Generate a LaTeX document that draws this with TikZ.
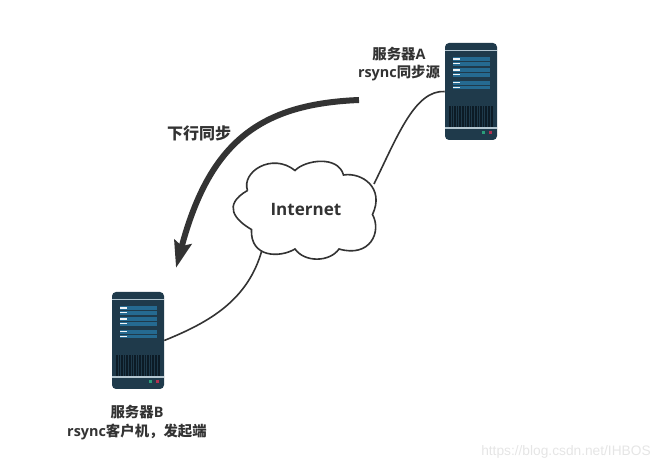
\documentclass[tikz,border=0pt]{standalone}
\usepackage{fontspec}
\setmainfont{Open Sans}
\newfontfamily\cjk{Noto Sans CJK SC}
\newfontfamily\wmfont{Liberation Sans}
\usetikzlibrary{arrows.meta}
\definecolor{srvbody}{HTML}{1F3A4B}
\definecolor{srvbar}{HTML}{256A91}
\definecolor{srvline}{HTML}{B4C6D0}
\definecolor{srvvent}{HTML}{0C1B26}
\definecolor{srvgreen}{HTML}{2A9D7A}
\definecolor{srvred}{HTML}{B03050}
\definecolor{inkdark}{HTML}{333333}
\tikzset{
	srvnode/.style={fill=srvbody, rounded corners=3, minimum width=39pt, minimum height=72.75pt, inner sep=0pt},
	label/.style={font=\bfseries\fontsize{10.8}{14}\selectfont, text=inkdark, align=center},
	wire/.style={line width=1.2pt, color=inkdark},
}
% rel. to top left corner of the box, in px
\def\srvdetails(#1,#2){
	\begin{scope}[shift={(#1,#2)}]
		\fill[srvline] (0, 7) rectangle (52, 8.5);
		\fill[srvline] (0, 84.5) rectangle (52, 86);
		\foreach \y in {14.3, 19, 25.3, 30, 38, 42.7} {
			\fill[srvbar] (7.7, \y) rectangle (45, \y+3.6);
			\fill[white!80!srvline] (8.3, \y+1.2) rectangle (15, \y+2.4);
		}
		\fill[srvvent] (4.3, 63) rectangle (47.7, 83.7);
		\foreach \x in {5.5, 8.1, ..., 47} {
			\fill[srvbody] (\x, 63) rectangle (\x+0.9, 83.7);
		}
		\fill[srvgreen] (36.7, 88.4) rectangle (40, 90.6);
		\fill[srvred] (44, 88.4) rectangle (47.4, 90.6);
	\end{scope}
}

\begin{document}
\begin{tikzpicture}[x=0.75pt, y=-0.75pt]
	\useasboundingbox (0, 0) rectangle (658, 470);
	
	\node[srvnode] (srva) at (471, 91.5) {};
	\srvdetails(445, 43)
	\node[srvnode] (srvb) at (138, 340.5) {};
	\srvdetails(112, 292)
	
	\coordinate (cloudne) at (374, 184);
	\coordinate (cloudsw) at (262, 250);
	\draw[wire] (srva.west) .. controls (415, 90) and (398, 135) .. (cloudne);
	\draw[wire] (cloudsw) .. controls (248, 300) and (210, 322) .. (srvb.east);
	
	\draw[wire, fill=white] (247.5, 190.5) .. controls (241, 172) and (272, 152) .. (295, 170.5)
		.. controls (305, 160) and (338, 155) .. (343.5, 175)
		.. controls (362, 172) and (385, 188) .. (372.5, 214.5)
		.. controls (382, 232) and (370, 258) .. (339, 249)
		.. controls (330, 262) and (305, 263) .. (295, 249)
		.. controls (280, 258) and (250, 258) .. (251.5, 229.5)
		.. controls (235, 220) and (222, 205) .. (247.5, 190.5);
	\node[label, font=\bfseries\fontsize{12.8}{15}\selectfont] (inet) at (306, 209.5) {Internet};
	
	\node[label] (lbla) at (399, 64) {{\cjk 服务器}A\\rsync{\cjk 同步源}};
	\node[label] (lblb) at (137, 422.5) {{\cjk 服务器}B\\rsync{\cjk 客户机，发起端}};
	\node[label, font=\bfseries\fontsize{12}{14}\selectfont] (lbldown) at (199, 133.5) {\cjk 下行同步};
	
	\coordinate (arrstart) at (359, 100);
	\coordinate (arrend) at (176, 268);
	\draw[line width=4.5pt, color=inkdark, -{Stealth[length=20pt, width=13pt, inset=3pt]}] (arrstart) .. controls (262, 104) and (210, 140) .. (arrend);
	
	\node[font=\wmfont\fontsize{10.3}{12}\selectfont, text=black!10] (wmark) at (566, 452) {https://blog.csdn.net/IHBOS};
\end{tikzpicture}
\end{document}
